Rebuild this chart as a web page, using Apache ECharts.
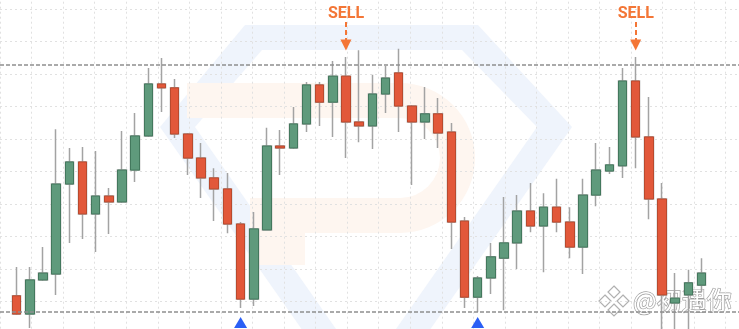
<!DOCTYPE html>
<html><head><meta charset="utf-8">
<script src="https://cdn.jsdelivr.net/npm/echarts@6/dist/echarts.min.js"></script>
<style>html,body{margin:0;padding:0;background:#fff;overflow:hidden}#c{width:739px;height:329px}</style>
</head><body><div id="c"></div>
<script>
// categories (two trailing empty slots to the right of the last candle)
const categories = ['1','2','3','4','5','6','7','8','9','10','11','12','13','14','15','16','17','18','19','20',
  '21','22','23','24','25','26','27','28','29','30','31','32','33','34','35','36','37','38','39','40',
  '41','42','43','44','45','46','47','48','49','50','51','52','53','54','55'];
const opens = [11.8, 6.2, 16.7, 18.5, 46.2, 53.0, 37.0, 42.5, 40.7, 50.5, 61.0, 77.0, 75.8, 61.6, 54.2, 48.1, 44.7, 33.9, 10.8, 32.1,
  57.9, 57.3, 64.7, 76.7, 71.4, 79.4, 65.3, 64.1, 73.9, 80.4, 70.2, 65.3, 67.8, 62.2, 34.8, 11.4, 17.3, 23.4, 28.1, 37.9,
  33.3, 39.1, 34.5, 26.8, 42.8, 50.2, 51.8, 77.9, 60.7, 41.6, 9.6, 12.1, 15.1];
const closes = [6.2, 16.7, 18.8, 46.2, 53.0, 37.0, 42.5, 40.7, 50.5, 61.0, 77.0, 75.8, 61.6, 54.2, 48.1, 44.7, 33.9, 10.8, 32.4, 57.9,
  57.3, 64.7, 76.7, 71.4, 79.4, 65.3, 64.1, 73.9, 78.8, 70.2, 65.3, 67.8, 61.9, 34.5, 11.4, 17.3, 23.8, 28.1, 37.9, 33.3,
  39.1, 34.5, 26.8, 42.8, 50.5, 52.1, 77.9, 60.7, 41.6, 12.1, 11.1, 15.8, 18.8];
const lows = [5.9, 1.9, 16.4, 12.1, 28.1, 29.3, 25.3, 30.8, 40.4, 46.8, 60.7, 68.4, 60.4, 49.0, 41.9, 34.8, 31.1, 8.1, 8.7, 31.8,
  49.0, 57.0, 62.2, 64.1, 60.7, 54.2, 59.1, 57.0, 68.1, 62.2, 45.9, 60.1, 57.3, 26.2, 8.1, 6.8, 12.4, 7.4, 20.1, 31.4,
  19.1, 31.4, 23.4, 18.5, 39.4, 49.3, 48.1, 51.1, 35.4, 0.5, 0.5, 0.5, 13.0];
const highs = [20.7, 20.7, 26.8, 63.1, 57.3, 57.6, 56.4, 45.0, 62.5, 68.1, 81.9, 85.0, 78.5, 61.9, 58.8, 51.1, 49.6, 34.5, 37.6, 63.5,
  62.8, 69.9, 77.6, 77.6, 84.1, 85.3, 87.4, 79.8, 82.5, 87.8, 70.5, 76.1, 72.7, 65.0, 36.1, 17.9, 28.1, 42.2, 42.8, 46.5,
  43.4, 47.8, 39.1, 47.8, 58.8, 57.6, 81.9, 85.3, 73.0, 46.5, 18.8, 19.8, 23.4];
const levels = [82.8, 6.8];          // resistance / support
const sellIdx = [25, 47];            // SELL signals
const buyIdx = [17, 35];             // buy arrows
const sellLabelY = 98.6, sellArrowFrom = 96.1, sellArrowTo = 89.0, buyY = 3.6;

const wickData = opens.map((o, i) => [o, closes[i], lows[i], highs[i]]);
const bodyData = opens.map((o, i) => [o, closes[i], Math.min(o, closes[i]), Math.max(o, closes[i])]);

const chart = echarts.init(document.getElementById('c'), null, {renderer: 'canvas'});
const gridSplit = {show: true, lineStyle: {color: '#e1e1e1', type: [2, 3], width: 1}};
const orange = '#fef6f0';
chart.setOption({
  animation: false,
  backgroundColor: '#ffffff',
  grid: [
    {left: 10.1, width: 724.4, top: -23.3, height: 357.5, outerBoundsMode: 'none'},
    {left: 0, width: 739, top: -23.3, height: 357.5, outerBoundsMode: 'none'}
  ],
  xAxis: [
    {type: 'category', gridIndex: 0, data: categories, boundaryGap: true,
     axisLine: {show: false}, axisTick: {show: false}, axisLabel: {show: false}, splitLine: {show: false}},
    {type: 'value', gridIndex: 1, min: 0, max: 23.42, interval: 1,
     axisLine: {show: false}, axisTick: {show: false}, axisLabel: {show: false}, splitLine: gridSplit}
  ],
  yAxis: [
    {type: 'value', gridIndex: 0, min: 0, max: 110, interval: 10,
     axisLine: {show: false}, axisTick: {show: false}, axisLabel: {show: false}, splitLine: {show: false}},
    {type: 'value', gridIndex: 1, min: 0, max: 110, interval: 10,
     axisLine: {show: false}, axisTick: {show: false}, axisLabel: {show: false}, splitLine: gridSplit}
  ],
  graphic: {elements: [
    {type: 'polygon', z: -10, silent: true,
     shape: {points: [[245,25],[478,25],[572,127],[366,421],[160,127]]},
     style: {fill: '#eff4fc'}},
    {type: 'polygon', z: -9, silent: true,
     shape: {points: [[262,50],[462,50],[537,127],[366,372],[195,127]]},
     style: {fill: '#ffffff'}},
    {type: 'sector', z: -8, silent: true,
     shape: {cx: 400, cy: 158, r: 75, r0: 40, startAngle: -Math.PI / 2, endAngle: Math.PI / 2},
     style: {fill: orange}},
    {type: 'rect', z: -8, silent: true, shape: {x: 187, y: 83, width: 213, height: 35}, style: {fill: orange}},
    {type: 'rect', z: -8, silent: true, shape: {x: 250, y: 198, width: 150, height: 35}, style: {fill: orange}},
    {type: 'rect', z: -8, silent: true, shape: {x: 250, y: 198, width: 55, height: 67}, style: {fill: orange}},
    // bottom-right watermark
    {type: 'group', z: 100, silent: true, children: [
      {type: 'polygon', shape: {points: [[614,286],[620,292],[614,298],[608,292]]}, style: {fill: '#fff', stroke: '#b0b0b0', lineWidth: 1.2}},
      {type: 'polygon', shape: {points: [[605,295],[611,301],[605,307],[599,301]]}, style: {fill: '#fff', stroke: '#b0b0b0', lineWidth: 1.2}},
      {type: 'polygon', shape: {points: [[623,295],[629,301],[623,307],[617,301]]}, style: {fill: '#fff', stroke: '#b0b0b0', lineWidth: 1.2}},
      {type: 'polygon', shape: {points: [[614,304],[620,310],[614,316],[608,310]]}, style: {fill: '#fff', stroke: '#b0b0b0', lineWidth: 1.2}},
      {type: 'text', x: 633, y: 288, style: {text: '@初遇你', fill: '#ffffff', stroke: '#a0a0a0', lineWidth: 1.4,
        font: '25px "Noto Sans CJK SC", sans-serif'}}
    ]}
  ]},
  series: [
    {type: 'line', xAxisIndex: 1, yAxisIndex: 1, data: [], silent: true,
     markLine: {silent: true, symbol: 'none', label: {show: false},
       lineStyle: {color: '#8e8e8e', type: [4, 2], width: 1.5},
       data: levels.map(v => ({yAxis: v}))}},
    {type: 'candlestick', name: 'wick', xAxisIndex: 0, yAxisIndex: 0, data: wickData, barWidth: 9, silent: true,
     itemStyle: {color: 'rgba(0,0,0,0)', color0: 'rgba(0,0,0,0)', borderColor: '#a3a3a3', borderColor0: '#a3a3a3', borderWidth: 1.5}},
    {type: 'candlestick', name: 'body', xAxisIndex: 0, yAxisIndex: 0, data: bodyData, barWidth: 9, silent: true,
     itemStyle: {color: '#5f9a7c', color0: '#e2583a', borderColor: '#43785d', borderColor0: '#b94a2e', borderWidth: 1},
     markLine: {silent: true, symbol: ['none', 'triangle'], symbolSize: 11, label: {show: false},
       lineStyle: {color: '#f47636', type: [5, 3], width: 2},
       data: sellIdx.map(i => [{coord: [i, sellArrowFrom]}, {coord: [i, sellArrowTo]}])},
     markPoint: {silent: true,
       data: sellIdx.map(i => ({coord: [i, sellLabelY], symbol: 'circle', symbolSize: 1,
           itemStyle: {color: 'rgba(0,0,0,0)'},
           label: {show: true, formatter: 'SELL', position: 'inside', color: '#f47636', fontSize: 16, fontWeight: 'bold',
             fontFamily: 'Roboto, sans-serif'}}))
         .concat(buyIdx.map(i => ({coord: [i, buyY], symbol: 'triangle', symbolSize: [13, 11],
           itemStyle: {color: '#2b5ff5'}, label: {show: false}})))}}
  ]
});
</script></body></html>
